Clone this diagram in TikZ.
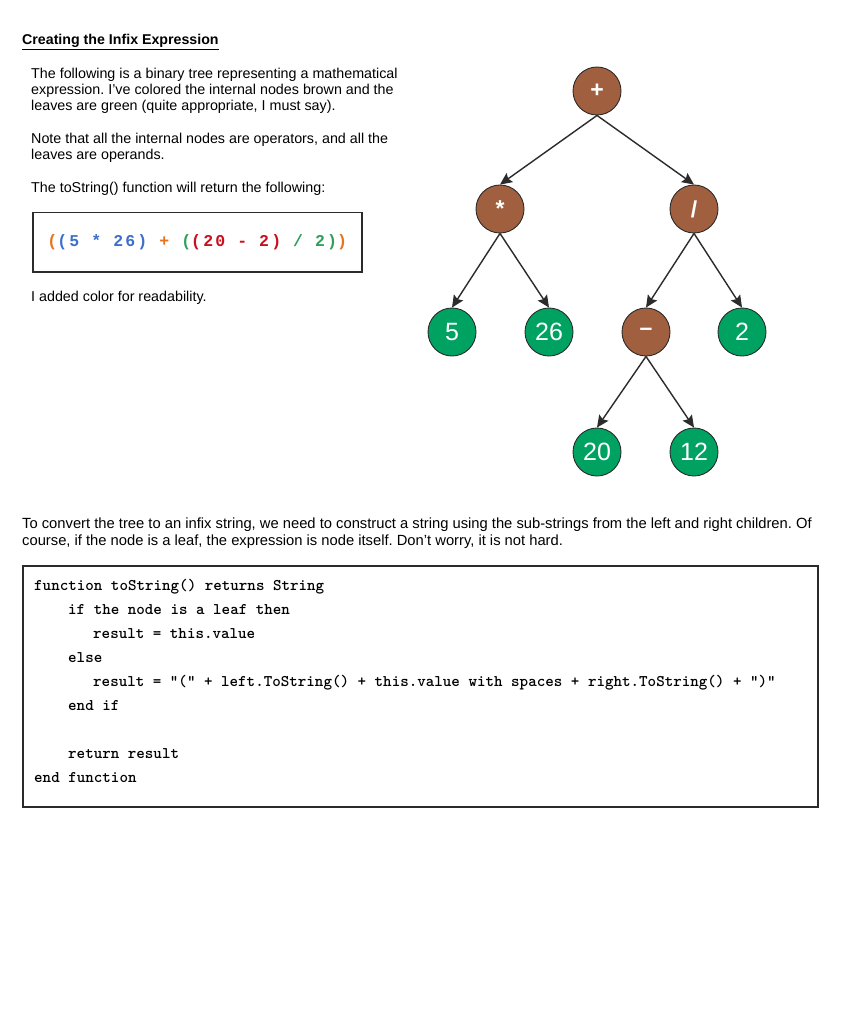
\documentclass[tikz,border=0pt]{standalone}
\usepackage{fontspec}
\setmainfont{Liberation Sans}
\newfontfamily\exprfont[LetterSpace=13]{Liberation Mono}
\usepackage{tikz}
\usetikzlibrary{positioning,arrows.meta}
\definecolor{bark}{HTML}{A0603F}
\definecolor{leaf}{HTML}{00A262}
\definecolor{exorange}{HTML}{E8731C}
\definecolor{exblue}{HTML}{3D6FCC}
\definecolor{exred}{HTML}{C8101E}
\definecolor{exgreen}{HTML}{2FA05A}
\definecolor{rim}{HTML}{2B2B2B}
\newcommand{\oc}[1]{\textcolor{exorange}{#1}}
\newcommand{\bc}[1]{\textcolor{exblue}{#1}}
\newcommand{\rc}[1]{\textcolor{exred}{#1}}
\newcommand{\gc}[1]{\textcolor{exgreen}{#1}}
\frenchspacing
\tikzset{
  opnode/.style   = {circle, draw=rim, fill=bark, line width=0.9pt, minimum size=48pt,
                     inner sep=0pt, text=white, font=\fontsize{23}{26}\selectfont\bfseries},
  valnode/.style  = {circle, draw=rim, fill=leaf, line width=0.9pt, minimum size=48pt,
                     inner sep=0pt, text=white, font=\fontsize{25}{28}\selectfont},
  link/.style     = {-{Stealth[length=12pt,width=11pt,inset=2pt]}, line width=1.4pt, draw=rim},
  prose/.style    = {inner sep=0pt, align=left, font=\fontsize{14.3}{16}\selectfont},
  framebox/.style = {rectangle, draw=rim, line width=1.5pt, inner sep=0pt},
  codetxt/.style  = {inner sep=0pt, align=left, font=\fontsize{16.25}{24}\selectfont\ttfamily\bfseries},
}

\begin{document}
\begin{tikzpicture}[x=1pt, y=-1pt]
  \useasboundingbox[fill=white] (0,0) rectangle (855,1024);

  % left column text
  \node[prose, anchor=north west, font=\fontsize{14.2}{16}\selectfont\bfseries] (title) at (22,34)
    {\underline{Creating the Infix Expression}};
  \node[prose, anchor=north west] (intro) at (31,68)
    {The following is a binary tree representing a mathematical\\
     expression. I've colored the internal nodes brown and the\\
     leaves are green (quite appropriate, I must say).};
  \node[prose, anchor=north west] (note) at (31,133)
    {Note that all the internal nodes are operators, and all the\\
     leaves are operands.};
  \node[prose, anchor=north west] (tostr) at (31,182)
    {The toString() function will return the following:};
  \node[framebox, anchor=north west, minimum width=329pt, minimum height=59pt,
        font=\fontsize{16.5}{18}\selectfont\exprfont\bfseries] (expr) at (32,212)
    {\oc{(}\bc{(5 * 26)} \oc{+} \gc{(}\rc{(20 - 2)} \gc{/ 2)}\oc{)}};
  \node[prose, anchor=north west] (readable) at (31,291)
    {I added color for readability.};

  % the tree
  \node[opnode]  (plus)  at (597,91)  {+};
  \node[opnode]  (times) at (500,209) {*};
  \node[opnode]  (slash) at (694,209) {/};
  \node[valnode] (five)  at (452,332) {5};
  \node[valnode] (tsix)  at (549,332) {26};
  \node[opnode]  (minus) at (646,332) {--};
  \node[valnode] (two)   at (742,332) {2};
  \node[valnode] (twen)  at (597,452) {20};
  \node[valnode] (twel)  at (694,452) {12};

  \foreach \from/\to in {plus/times, plus/slash, times/five, times/tsix,
                         slash/minus, slash/two, minus/twen, minus/twel}
    \draw[link] (\from.south) -- (\to.north);

  % conversion text and pseudo code
  \node[prose, anchor=north west, font=\fontsize{14.75}{17}\selectfont] (convert) at (22,518)
    {To convert the tree to an infix string, we need to construct a string using the sub-strings from the left and right children. Of\\
     course, if the node is a leaf, the expression is node itself. Don't worry, it is not hard.};
  \node[framebox, anchor=north west, minimum width=795pt, minimum height=241pt] (codebox) at (22,565) {};
  \node[codetxt, anchor=north west] (code) at (34,579)
    {function toString() returns String\\
     \hspace*{34pt}if the node is a leaf then\\
     \hspace*{59pt}result = this.value\\
     \hspace*{34pt}else\\
     \hspace*{59pt}result = "(" + left.ToString() + this.value with spaces + right.ToString() + ")"\\
     \hspace*{34pt}end if\\[24pt]
     \hspace*{34pt}return result\\
     end function};
\end{tikzpicture}
\end{document}
